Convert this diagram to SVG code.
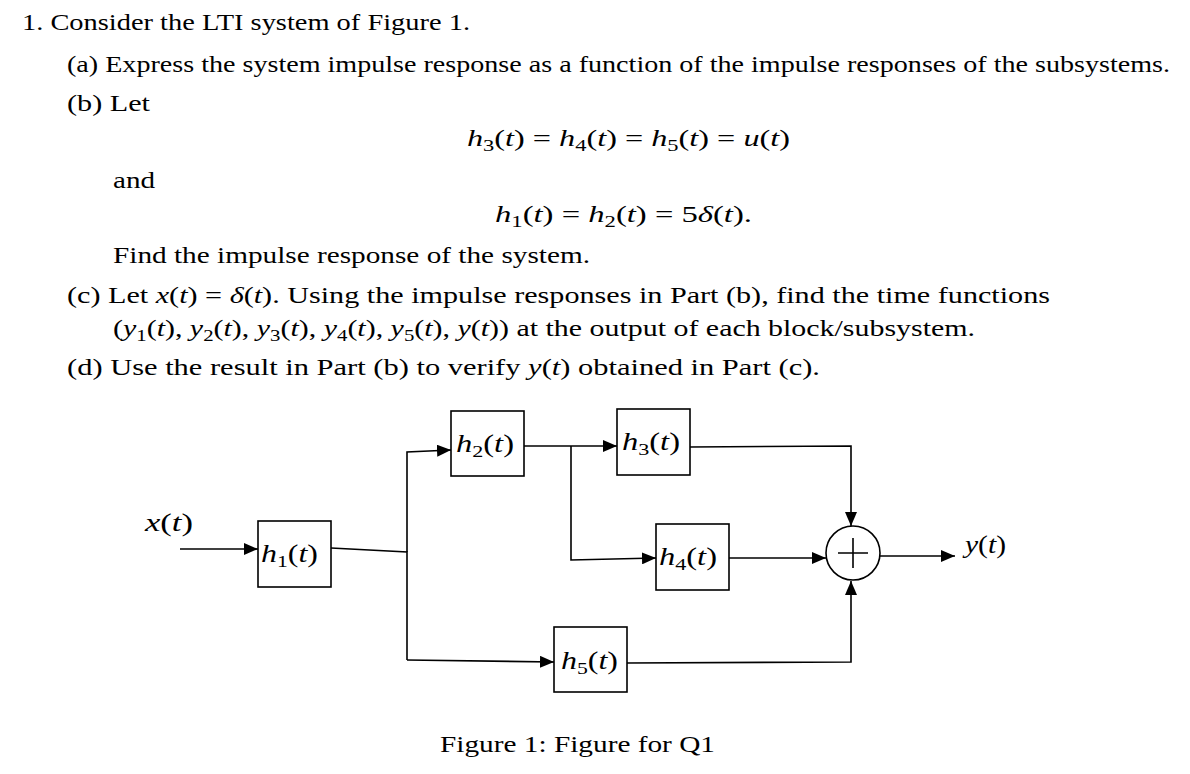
<svg xmlns="http://www.w3.org/2000/svg" width="1190" height="774" viewBox="0 0 1190 774">
<defs>
<marker id="ar" viewBox="0 0 14 12" refX="14" refY="6" markerWidth="14" markerHeight="12" markerUnits="userSpaceOnUse" orient="auto"><path d="M0,0L14,6L0,12z" fill="#000"/></marker>
<style>
text{font-family:"Liberation Serif","DejaVu Serif",serif;font-size:23px;fill:#000}
.m{font-style:italic}
.l{font-size:25px}
.b{fill:#fff;stroke:#000;stroke-width:1.6}
.c path{fill:none;stroke:#000;stroke-width:1.6}
.a{marker-end:url(#ar)}
</style>
</defs>
<rect width="1190" height="774" fill="#fff"/>
<text x="22" y="30" textLength="448" lengthAdjust="spacingAndGlyphs">1.  Consider the LTI system of Figure 1.</text>
<text x="67" y="72" textLength="1103" lengthAdjust="spacingAndGlyphs">(a)  Express the system impulse response as a function of the impulse responses of the subsystems.</text>
<text x="67" y="111" textLength="83" lengthAdjust="spacingAndGlyphs">(b)  Let</text>
<text x="467" y="146" textLength="323" lengthAdjust="spacingAndGlyphs"><tspan class="m">h</tspan><tspan font-size="16" dy="5">3</tspan><tspan dy="-5">(</tspan><tspan class="m">t</tspan>) = <tspan class="m">h</tspan><tspan font-size="16" dy="5">4</tspan><tspan dy="-5">(</tspan><tspan class="m">t</tspan>) = <tspan class="m">h</tspan><tspan font-size="16" dy="5">5</tspan><tspan dy="-5">(</tspan><tspan class="m">t</tspan>) = <tspan class="m">u</tspan>(<tspan class="m">t</tspan>)</text>
<text x="113" y="188" textLength="42" lengthAdjust="spacingAndGlyphs">and</text>
<text x="495" y="222" textLength="257" lengthAdjust="spacingAndGlyphs"><tspan class="m">h</tspan><tspan font-size="16" dy="5">1</tspan><tspan dy="-5">(</tspan><tspan class="m">t</tspan>) = <tspan class="m">h</tspan><tspan font-size="16" dy="5">2</tspan><tspan dy="-5">(</tspan><tspan class="m">t</tspan>) = 5<tspan class="m">δ</tspan>(<tspan class="m">t</tspan>).</text>
<text x="113" y="263" textLength="477" lengthAdjust="spacingAndGlyphs">Find the impulse response of the system.</text>
<text x="67" y="303" textLength="983" lengthAdjust="spacingAndGlyphs">(c)  Let <tspan class="m">x</tspan>(<tspan class="m">t</tspan>) = <tspan class="m">δ</tspan>(<tspan class="m">t</tspan>). Using the impulse responses in Part (b), find the time functions</text>
<text x="113" y="336" textLength="862" lengthAdjust="spacingAndGlyphs">(<tspan class="m">y</tspan><tspan font-size="16" dy="5">1</tspan><tspan dy="-5">(</tspan><tspan class="m">t</tspan>), <tspan class="m">y</tspan><tspan font-size="16" dy="5">2</tspan><tspan dy="-5">(</tspan><tspan class="m">t</tspan>), <tspan class="m">y</tspan><tspan font-size="16" dy="5">3</tspan><tspan dy="-5">(</tspan><tspan class="m">t</tspan>), <tspan class="m">y</tspan><tspan font-size="16" dy="5">4</tspan><tspan dy="-5">(</tspan><tspan class="m">t</tspan>), <tspan class="m">y</tspan><tspan font-size="16" dy="5">5</tspan><tspan dy="-5">(</tspan><tspan class="m">t</tspan>), <tspan class="m">y</tspan>(<tspan class="m">t</tspan>)) at the output of each block/subsystem.</text>
<text x="67" y="375" textLength="753" lengthAdjust="spacingAndGlyphs">(d)  Use the result in Part (b) to verify <tspan class="m">y</tspan>(<tspan class="m">t</tspan>) obtained in Part (c).</text>
<g class="c">
<path class="a" d="M180,549L258,549"/>
<path d="M331,548L407,552L407,660"/>
<path class="a" d="M407,552L407,452L451,450"/>
<path class="a" d="M407,660L554,662"/>
<path class="a" d="M524,446L617,446"/>
<path class="a" d="M571,446L571,560L656,558"/>
<path class="a" d="M690,447L851,446L851,526"/>
<path class="a" d="M729,558L826,558"/>
<path class="a" d="M627,663L851,662L851,581"/>
<path class="a" d="M880,556L955,556"/>
</g>
<g id="h1"><rect class="b" x="258" y="521" width="73" height="66"/><text class="l" x="261" y="562" textLength="57" lengthAdjust="spacingAndGlyphs"><tspan class="m">h</tspan><tspan font-size="17" dy="5">1</tspan><tspan dy="-5">(</tspan><tspan class="m">t</tspan>)</text></g>
<g id="h2"><rect class="b" x="451" y="411" width="73" height="65"/><text class="l" x="456" y="452" textLength="58" lengthAdjust="spacingAndGlyphs"><tspan class="m">h</tspan><tspan font-size="17" dy="5">2</tspan><tspan dy="-5">(</tspan><tspan class="m">t</tspan>)</text></g>
<g id="h3"><rect class="b" x="617" y="409" width="73" height="66"/><text class="l" x="622" y="450" textLength="58" lengthAdjust="spacingAndGlyphs"><tspan class="m">h</tspan><tspan font-size="17" dy="5">3</tspan><tspan dy="-5">(</tspan><tspan class="m">t</tspan>)</text></g>
<g id="h4"><rect class="b" x="656" y="524" width="73" height="66"/><text class="l" x="659" y="565" textLength="58" lengthAdjust="spacingAndGlyphs"><tspan class="m">h</tspan><tspan font-size="17" dy="5">4</tspan><tspan dy="-5">(</tspan><tspan class="m">t</tspan>)</text></g>
<g id="h5"><rect class="b" x="554" y="627" width="73" height="65"/><text class="l" x="561" y="669" textLength="57" lengthAdjust="spacingAndGlyphs"><tspan class="m">h</tspan><tspan font-size="17" dy="5">5</tspan><tspan dy="-5">(</tspan><tspan class="m">t</tspan>)</text></g>
<g id="sum"><ellipse class="b" cx="853" cy="553" rx="27" ry="27"/><path d="M853,538V568M838,553H868" stroke="#000" stroke-width="1.6"/></g>
<text class="l" x="145" y="531" textLength="48" lengthAdjust="spacingAndGlyphs"><tspan class="m">x</tspan>(<tspan class="m">t</tspan>)</text>
<text class="l" x="965" y="553" textLength="41" lengthAdjust="spacingAndGlyphs"><tspan class="m">y</tspan>(<tspan class="m">t</tspan>)</text>
<text x="440" y="752" textLength="275" lengthAdjust="spacingAndGlyphs">Figure 1:  Figure for Q1</text>
</svg>
